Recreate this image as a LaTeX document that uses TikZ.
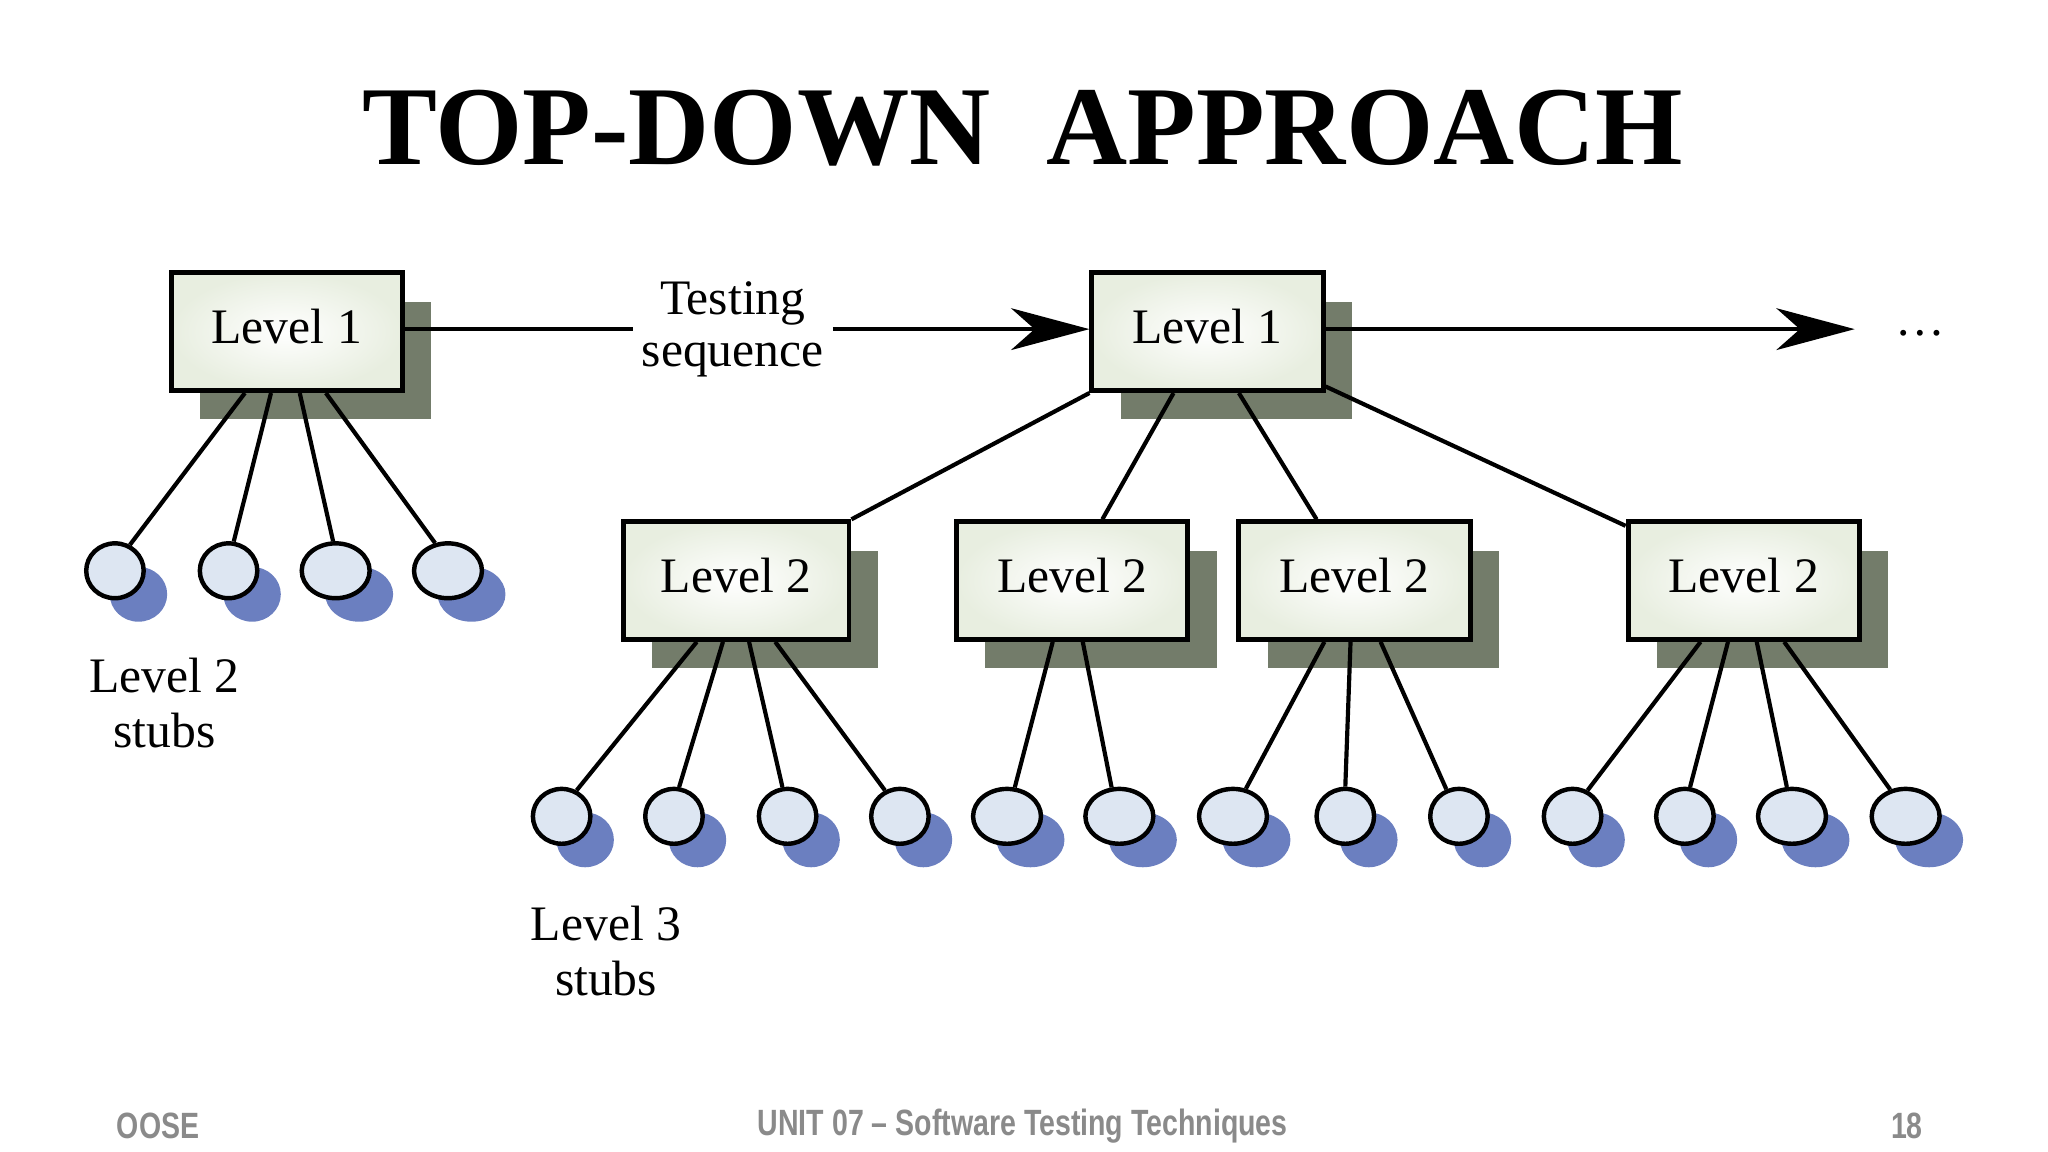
\documentclass[tikz,border=0pt]{standalone}
\usepackage{fontspec}
\setmainfont{Liberation Serif}
\newfontfamily\footfont[FakeStretch=0.78]{Liberation Sans}
\usetikzlibrary{shapes.geometric,shadows,calc,arrows.meta}
\definecolor{shgreen}{HTML}{737C6A}
\definecolor{boxfill}{HTML}{E8EEE0}
\definecolor{shblue}{HTML}{6B7FC0}
\definecolor{stubfill}{HTML}{DDE6F2}
\definecolor{footgrey}{HTML}{8A8A8A}
\tikzset{
  lvbox/.style={draw=black,line width=1.9pt,inner color=white,outer color=boxfill,
    minimum width=88.5pt,minimum height=45pt,font=\fontsize{19}{22}\selectfont,text depth=4pt,
    drop shadow={shadow xshift=11pt,shadow yshift=-11pt,fill=shgreen,opacity=1}},
  stub/.style={ellipse,draw=black,line width=1.7pt,fill=stubfill,minimum width=22pt,minimum height=21pt,inner sep=0pt,
    drop shadow={shadow xshift=9pt,shadow yshift=-9pt,fill=shblue,opacity=1}},
  wstub/.style={stub,minimum width=26pt},
  conn/.style={line width=1.6pt},
  tip/.style={-{Stealth[length=30pt,width=16pt,inset=9pt]}},
  lbl/.style={align=center,font=\fontsize{19}{22}\selectfont},
  foot/.style={font=\footfont\bfseries\fontsize{14}{16}\selectfont,text=footgrey}
}
\begin{document}
\begin{tikzpicture}[x=0.5pt,y=-0.5pt]
\useasboundingbox (0,0) rectangle (1568,882);
\node[font=\bfseries\fontsize{43}{48}\selectfont] (title) at (783,98) {TOP-DOWN\ \ APPROACH};
% boxes
\node[lvbox] (a) at (219.5,254) {Level 1};
\node[lvbox] (b) at (924.5,254) {Level 1};
\node[lvbox,minimum width=86.5pt] (c1) at (563.5,444.5) {Level 2};
\node[lvbox] (c2) at (821,444.5) {Level 2};
\node[lvbox] (c3) at (1037,444.5) {Level 2};
\node[lvbox] (c4) at (1335,444.5) {Level 2};
% stubs row 1
\node[stub] (s1) at (88,437) {};
\node[stub] (s2) at (175,437) {};
\node[wstub] (s3) at (257,437) {};
\node[wstub] (s4) at (343,437) {};
% stubs row 2
\node[stub] (t1) at (430,625) {};
\node[stub] (t2) at (516,625) {};
\node[stub] (t3) at (603,625) {};
\node[stub] (t4) at (689,625) {};
\node[wstub] (t5) at (771,625) {};
\node[wstub] (t6) at (857,625) {};
\node[wstub] (t7) at (944,625) {};
\node[stub] (t8) at (1030,625) {};
\node[stub] (t9) at (1117,625) {};
\node[stub] (t10) at (1204,625) {};
\node[stub] (t11) at (1290,625) {};
\node[wstub] (t12) at (1372,625) {};
\node[wstub] (t13) at (1459,625) {};
% labels
\node[lbl] (seq) at (561,252) {Testing\\[-2pt]sequence};
\node[lbl] (l2s) at (126,538) {Level 2\\[-1pt]stubs};
\node[lbl] (l3s) at (464,728) {Level 3\\[-1pt]stubs};
\node[font=\fontsize{19}{22}\selectfont] (dots) at (1470,255) {\dots};
\coordinate (arend) at (1420,252);
% sequence arrows
\draw[conn] (a.east |- seq.west) -- (seq.west);
\draw[conn,tip] (seq.east) -- (b.west |- seq.east);
\draw[conn,tip] (b.east |- arend) -- (arend);
% tree lines
\draw[conn] (b.south west) -- (c1.north east);
\draw[conn] ($(b.south)+(-26,0)$) -- ($(c2.north)+(23,0)$);
\draw[conn] ($(b.south)+(24,0)$) -- ($(c3.north)+(-29,0)$);
\draw[conn] ($(b.south east)+(0,-5)$) -- ($(c4.north west)+(0,5)$);
\draw[conn] ($(a.south)+(-32,0)$) -- (s1.60);
\draw[conn] ($(a.south)+(-12,0)$) -- (s2.80);
\draw[conn] ($(a.south)+(10,0)$) -- (s3.95);
\draw[conn] ($(a.south)+(30,0)$) -- (s4.115);
\draw[conn] ($(c1.south)+(-30,0)$) -- (t1.60);
\draw[conn] ($(c1.south)+(-10,0)$) -- (t2.80);
\draw[conn] ($(c1.south)+(10,0)$) -- (t3.100);
\draw[conn] ($(c1.south)+(30,0)$) -- (t4.120);
\draw[conn] ($(c2.south)+(-15,0)$) -- (t5.75);
\draw[conn] ($(c2.south)+(8,0)$) -- (t6.105);
\draw[conn] ($(c3.south)+(-23,0)$) -- (t7.65);
\draw[conn] ($(c3.south)+(-3,0)$) -- (t8.north);
\draw[conn] ($(c3.south)+(20,0)$) -- (t9.115);
\draw[conn] ($(c4.south)+(-33,0)$) -- (t10.60);
\draw[conn] ($(c4.south)+(-12,0)$) -- (t11.80);
\draw[conn] ($(c4.south)+(10,0)$) -- (t12.100);
\draw[conn] ($(c4.south)+(31,0)$) -- (t13.120);
% footer
\node[foot] (f1) at (121,862) {OOSE};
\node[foot] (f2) at (783,862) {UNIT 07 – Software Testing Techniques};
\node[foot] (f3) at (1460,862) {18};
\end{tikzpicture}
\end{document}
